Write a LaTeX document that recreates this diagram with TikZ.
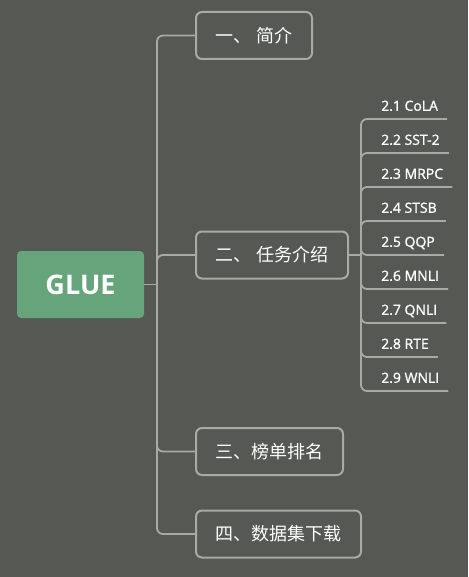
\documentclass[tikz,border=0pt]{standalone}
\usepackage{fontspec}
\setmainfont{Open Sans}
\newfontfamily\cjkfont{Noto Sans CJK SC}
\newfontfamily\leaffont[FakeBold=1.2]{Open Sans}
\usepackage{xcolor}
\usepackage{tikz}
\definecolor{bgcol}{HTML}{565854}
\definecolor{rootgreen}{HTML}{66A47B}
\definecolor{linegray}{HTML}{A8AAA6}

\tikzset{
  link/.style={draw=linegray, line width=1.8pt, rounded corners=6pt},
}

\begin{document}
\begin{tikzpicture}[x=1pt, y=-1pt,
    root/.style={fill=rootgreen, rounded corners=4pt, minimum width=127pt, minimum height=67pt,
      text=white, font=\bfseries\fontsize{27}{30}\selectfont},
    topic/.style={draw=linegray, line width=2pt, rounded corners=6pt, minimum height=47pt,
      inner xsep=0pt, anchor=west, text=white, font=\cjkfont\fontsize{18}{20}\selectfont},
    leaf/.style={anchor=south west, inner xsep=9pt, inner ysep=8pt, text height=10pt, text depth=0pt,
      text=white, font=\leaffont\fontsize{14}{16}\selectfont}]
    \fill[bgcol] (0,0) rectangle (468,577);
    \node[root] (glue) at (80.5,284.5) {GLUE};
    \coordinate (hub) at (157,284.5);
    \node[topic, minimum width=116pt] (intro) at (195,35.5) {一、 简介};
    \node[topic, minimum width=152pt] (tasks) at (195,255) {二、 任务介绍};
    \node[topic, minimum width=147pt] (rank) at (195,451.5) {三、榜单排名};
    \node[topic, minimum width=165pt] (data) at (195,534) {四、数据集下载};
    \draw[link] (glue.east) -- (hub);
    \foreach \b in {intro,tasks,rank,data}
      \draw[link] (hub) |- (\b.west);
    \coordinate (subhub) at (361,255);
    \draw[link] (tasks.east) -- (subhub);
    \foreach \i/\name in {1/CoLA,2/SST-2,3/MRPC,4/STSB,5/QQP,6/MNLI,7/QNLI,8/RTE,9/WNLI} {
      \node[leaf] (t\i) at (372,{85+34*\i}) {2.\i\ \name};
      \draw[link] (subhub) |- (t\i.south west) -- (t\i.south east);
    }
  \end{tikzpicture}
\end{document}
